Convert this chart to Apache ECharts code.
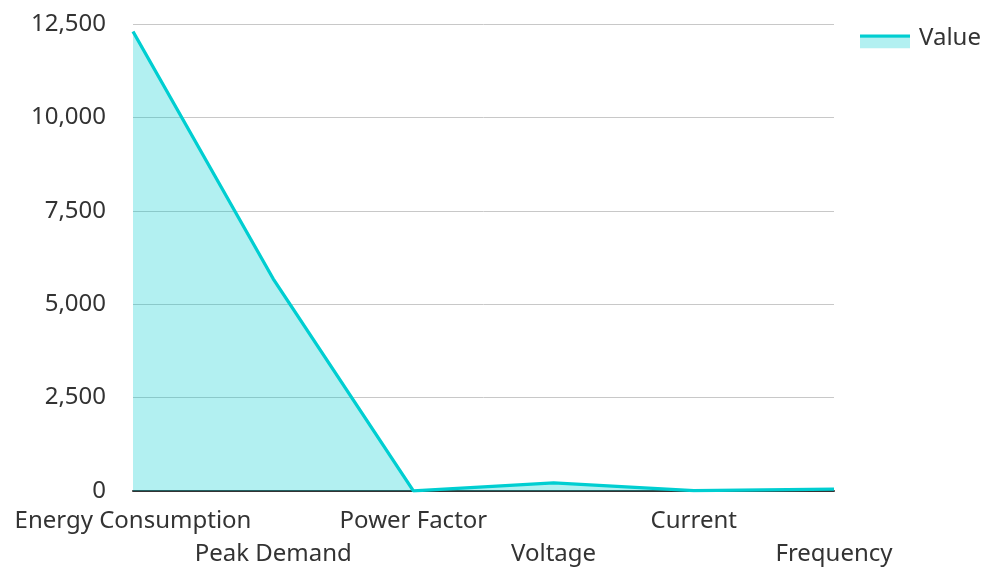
<!DOCTYPE html>
<html>
<head>
<meta charset="utf-8">
<script src="https://cdn.jsdelivr.net/npm/echarts@6/dist/echarts.min.js"></script>
<style>
html,body{margin:0;padding:0;background:#fff;}
#chart{width:983px;height:567px;}
</style>
</head>
<body>
<div id="chart"></div>
<script>
const categories = ['Energy Consumption', 'Peak Demand', 'Power Factor', 'Voltage', 'Current', 'Frequency'];
const values = [12300, 5680, 0.95, 220, 10, 50];
const seriesName = 'Value';

const chart = echarts.init(document.getElementById('chart'), null, {renderer: 'canvas'});
const FONT = 'Noto Sans';
const LINE_COLOR = '#00CED1';
chart.setOption({
  animation: false,
  textStyle: {fontFamily: FONT},
  grid: {left: 133, right: 149, top: 24, bottom: 76, containLabel: false, outerBoundsMode: 'none'},
  legend: {
    data: [seriesName],
    left: 861,
    top: 21,
    icon: 'rect',
    itemWidth: 48,
    itemHeight: 12,
    itemStyle: {opacity: 0},
    textStyle: {fontFamily: FONT, fontSize: 24, lineHeight: 24, color: '#333', padding: [0, 0, 0, 0]}
  },
  graphic: [{
    type: 'rect',
    shape: {x: 860, y: 37.7, width: 50, height: 10.6},
    style: {fill: LINE_COLOR, opacity: 0.3},
    silent: true
  }, {
    type: 'rect',
    shape: {x: 860, y: 34.5, width: 50, height: 3.3},
    style: {fill: LINE_COLOR},
    silent: true
  }],
  xAxis: {
    type: 'category',
    data: categories,
    boundaryGap: false,
    axisLine: {lineStyle: {color: '#333', width: 2}},
    axisTick: {show: false},
    axisLabel: {
      interval: 0,
      margin: 14,
      fontFamily: FONT,
      fontSize: 24,
      color: '#333',
      lineHeight: 33,
      formatter: function (v, i) { return i % 2 === 1 ? '\n' + v : v; }
    },
    splitLine: {show: false}
  },
  yAxis: {
    type: 'value',
    min: 0,
    max: 12500,
    interval: 2500,
    axisLine: {show: false},
    axisTick: {show: false},
    axisLabel: {
      margin: 27,
      fontFamily: FONT,
      fontSize: 24,
      color: '#333',
      formatter: function (v) { return v.toLocaleString('en-US'); }
    },
    splitLine: {lineStyle: {color: '#c8c8c8', width: 1}}
  },
  series: [{
    name: seriesName,
    type: 'line',
    data: values,
    showSymbol: false,
    symbol: 'none',
    lineStyle: {color: LINE_COLOR, width: 3.3},
    itemStyle: {color: LINE_COLOR},
    areaStyle: {color: LINE_COLOR, opacity: 0.3}
  }]
});
</script>
</body>
</html>
